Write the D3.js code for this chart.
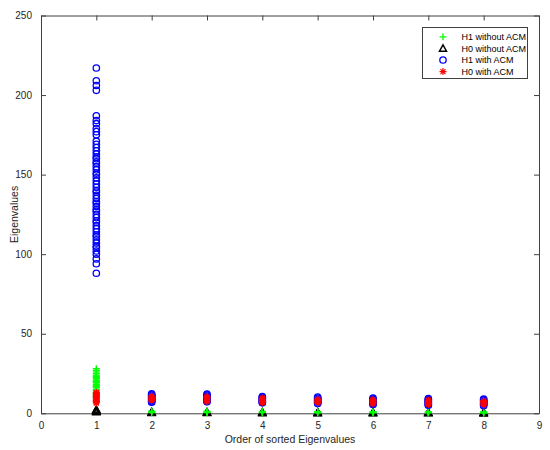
<!DOCTYPE html>
<html>
<head>
<meta charset="utf-8">
<script src="https://cdn.jsdelivr.net/npm/d3@7"></script>
<style>
body { margin: 0; background: #fff; }
svg { display: block; font-family: "Liberation Sans", Arial, sans-serif; }
</style>
</head>
<body>
<svg id="chart" width="550" height="450"></svg>
<script>
// ---- data ----
const orders = [1, 2, 3, 4, 5, 6, 7, 8];
const xTicks = [0, 1, 2, 3, 4, 5, 6, 7, 8, 9];
const yTicks = [0, 50, 100, 150, 200, 250];
const seriesNames = ["H1 without ACM", "H0 without ACM", "H1 with ACM", "H0 with ACM"];

// values per order (index 0 -> order 1, ...)
const h1WithoutACM = [
  [28, 27, 26, 25, 24, 23.5, 23, 22.5, 22, 21, 20.5, 20, 19.5, 19, 18, 17.5, 17, 16.5, 16, 15, 14.5, 14, 13, 12.5, 12, 11, 10.5, 10],
  [1.4, 1.1, 0.8, 0.5],
  [1.3, 1.0, 0.7, 0.4],
  [1.2, 0.9, 0.6, 0.4],
  [1.1, 0.8, 0.5, 0.3],
  [1.0, 0.8, 0.5, 0.3],
  [1.0, 0.7, 0.4, 0.3],
  [0.9, 0.6, 0.4, 0.2]
];
const h0WithoutACM = [
  [2.4, 2.0, 1.6, 1.2, 0.8],
  [0.9, 0.6, 0.3],
  [0.8, 0.5, 0.3],
  [0.8, 0.5, 0.2],
  [0.7, 0.4, 0.2],
  [0.7, 0.4, 0.2],
  [0.6, 0.4, 0.2],
  [0.6, 0.3, 0.1]
];
const h1WithACM = [
  [217, 209, 206, 203, 187, 184, 182, 179, 177, 175, 171, 169, 167, 165, 163, 161, 160, 158, 157, 155, 153, 151, 150, 148, 146, 144, 142, 140, 139, 137, 135, 133, 132, 130, 128, 127, 125, 123, 121, 120, 118, 116, 114, 112, 111, 109, 107, 105, 104, 102, 100, 97, 94, 88],
  [12.2, 11.6, 11.0, 10.4, 9.8, 9.2, 8.6, 8.0, 7.4, 7.0],
  [12.0, 11.4, 10.8, 10.2, 9.6, 9.0, 8.4, 7.8, 7.2],
  [10.5, 10.0, 9.4, 8.8, 8.2, 7.6, 7.0, 6.6],
  [10.2, 9.6, 9.0, 8.4, 7.8, 7.2, 6.6, 6.1],
  [9.5, 9.0, 8.4, 7.8, 7.2, 6.6, 6.0, 5.6],
  [9.2, 8.6, 8.0, 7.4, 6.8, 6.2, 5.6, 5.1],
  [9.0, 8.4, 7.8, 7.2, 6.6, 6.0, 5.4, 4.8]
];
const h0WithACM = [
  [13, 12.4, 11.8, 11.2, 10.6, 10, 9.5, 9, 8.5, 8, 7.5, 7, 6.5],
  [11.0, 10.2, 9.4, 8.6, 7.8],
  [10.5, 9.8, 9.0, 8.2, 7.4],
  [9.5, 8.8, 8.1, 7.4, 6.8],
  [9.0, 8.4, 7.7, 7.0, 6.4],
  [8.6, 8.0, 7.3, 6.6, 6.0],
  [8.2, 7.6, 6.9, 6.2, 5.6],
  [8.0, 7.3, 6.6, 5.9, 5.2]
];

// ---- layout ----
const svg = d3.select("#chart");
const plotL = 41, plotR = 539, plotT = 15.5, plotB = 413.3;
const x = d3.scaleLinear().domain([0, 9]).range([plotL, plotR]);
const y = d3.scaleLinear().domain([0, 250]).range([plotB, plotT]);
const axisColor = "#404040";

svg.append("rect").attr("x", 0).attr("y", 0).attr("width", 550).attr("height", 450).attr("fill", "#fff");

function styleAxis(g) {
  g.select(".domain").attr("stroke", axisColor);
  g.selectAll(".tick line").attr("stroke", axisColor);
  g.selectAll(".tick text").attr("fill", "#262626").attr("font-size", "10px").attr("font-family", "Liberation Sans, Arial, sans-serif");
}

const xAxis = svg.append("g").attr("transform", `translate(0,${plotB})`)
  .call(d3.axisBottom(x).tickValues(xTicks).tickFormat(d3.format("d")).tickSizeInner(-5).tickSizeOuter(0).tickPadding(9));
styleAxis(xAxis);
const xAxisTop = svg.append("g").attr("transform", `translate(0,${plotT})`)
  .call(d3.axisTop(x).tickValues(xTicks).tickFormat("").tickSizeInner(-5).tickSizeOuter(0));
styleAxis(xAxisTop);
const yAxis = svg.append("g").attr("transform", `translate(${plotL},0)`)
  .call(d3.axisLeft(y).tickValues(yTicks).tickFormat(d3.format("d")).tickSizeInner(-5).tickSizeOuter(0).tickPadding(9));
styleAxis(yAxis);
const yAxisRight = svg.append("g").attr("transform", `translate(${plotR},0)`)
  .call(d3.axisRight(y).tickValues(yTicks).tickFormat("").tickSizeInner(-5).tickSizeOuter(0));
styleAxis(yAxisRight);

// axis titles
svg.append("text").attr("x", (plotL + plotR) / 2).attr("y", 442.5).attr("text-anchor", "middle")
  .attr("font-size", "10.5px").attr("fill", "#262626").text("Order of sorted Eigenvalues");
svg.append("text").attr("transform", `translate(18,${(plotT + plotB) / 2}) rotate(-90)`).attr("text-anchor", "middle")
  .attr("font-size", "10.5px").attr("fill", "#262626").text("Eigenvalues");

// ---- markers ----
const s = 3.5;
const markers = {
  plus: (g, cx, cy) => g.append("path").attr("d", `M${cx - s},${cy}H${cx + s}M${cx},${cy - s}V${cy + s}`)
    .attr("stroke", "#00ff00").attr("stroke-width", 1.3).attr("fill", "none"),
  triangle: (g, cx, cy) => g.append("path").attr("d", `M${cx},${cy - s}L${cx + s},${cy + s * 0.8}L${cx - s},${cy + s * 0.8}Z`)
    .attr("stroke", "#000").attr("stroke-width", 1.5).attr("fill", "none"),
  circle: (g, cx, cy) => g.append("circle").attr("cx", cx).attr("cy", cy).attr("r", 3.2)
    .attr("stroke", "#0000ff").attr("stroke-width", 1.3).attr("fill", "none"),
  star: (g, cx, cy) => {
    const d = s * 0.72;
    g.append("path").attr("d", `M${cx - s},${cy}H${cx + s}M${cx},${cy - s}V${cy + s}M${cx - d},${cy - d}L${cx + d},${cy + d}M${cx - d},${cy + d}L${cx + d},${cy - d}`)
      .attr("stroke", "#ff0000").attr("stroke-width", 1.2).attr("fill", "none");
  }
};

const series = [
  { data: h0WithoutACM, marker: "triangle" },
  { data: h1WithoutACM, marker: "plus" },
  { data: h1WithACM, marker: "circle" },
  { data: h0WithACM, marker: "star" }
];
const plotG = svg.append("g");
series.forEach(sr => {
  const g = plotG.append("g");
  sr.data.forEach((vals, i) => {
    vals.forEach(v => markers[sr.marker](g, x(orders[i]), y(v)));
  });
});

// ---- legend ----
const legendOrder = ["plus", "triangle", "circle", "star"];
const lg = svg.append("g");
lg.append("rect").attr("x", 422.5).attr("y", 27.5).attr("width", 105).attr("height", 51)
  .attr("fill", "#fff").attr("stroke", axisColor).attr("stroke-width", 1);
seriesNames.forEach((name, i) => {
  const cy = 36.8 + i * 11.6;
  markers[legendOrder[i]](lg, 443, cy);
  lg.append("text").attr("x", 461.5).attr("y", cy + 3.3).attr("font-size", "9px").attr("fill", "#000").text(name);
});
</script>
</body>
</html>
